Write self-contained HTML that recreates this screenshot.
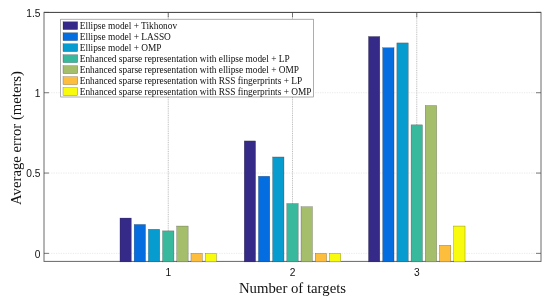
<!DOCTYPE html>
<html><head><meta charset="utf-8"><title>Average error vs number of targets</title>
<style>
html,body{margin:0;padding:0;background:#fff;}
body{width:550px;height:303px;overflow:hidden;}
svg{display:block;}
.tk{font-family:"Liberation Sans",Arial,Helvetica,sans-serif;font-size:10.2px;fill:#111;}
.lab{font-family:"Liberation Serif","Times New Roman",serif;font-size:14.75px;fill:#111;}
.lg{font-family:"Liberation Serif","Times New Roman",serif;font-size:9.36px;fill:#111;}
</style></head><body>
<svg width="550" height="303" viewBox="0 0 550 303">
<rect width="550" height="303" fill="#fff"/>
<line x1="168.25" y1="12.4" x2="168.25" y2="261.4" stroke="#888" stroke-width="0.55" stroke-dasharray="1 0.8"/>
<line x1="292.50" y1="12.4" x2="292.50" y2="261.4" stroke="#888" stroke-width="0.55" stroke-dasharray="1 0.8"/>
<line x1="416.75" y1="12.4" x2="416.75" y2="261.4" stroke="#888" stroke-width="0.55" stroke-dasharray="1 0.8"/>
<line x1="44.0" y1="253.37" x2="541.0" y2="253.37" stroke="#dadada" stroke-width="0.6" stroke-dasharray="1.2 1.2"/>
<line x1="44.0" y1="173.05" x2="541.0" y2="173.05" stroke="#dadada" stroke-width="0.6" stroke-dasharray="1.2 1.2"/>
<line x1="44.0" y1="92.72" x2="541.0" y2="92.72" stroke="#dadada" stroke-width="0.6" stroke-dasharray="1.2 1.2"/>
<line x1="44.0" y1="12.4" x2="541.0" y2="12.4" stroke="#383838" stroke-width="1.0"/>
<line x1="44.0" y1="261.4" x2="541.0" y2="261.4" stroke="#666" stroke-width="1.0"/>
<line x1="44.0" y1="11.9" x2="44.0" y2="261.9" stroke="#6a6a6a" stroke-width="1.0"/>
<line x1="541.0" y1="11.9" x2="541.0" y2="261.9" stroke="#6a6a6a" stroke-width="1.0"/>
<line x1="168.25" y1="261.4" x2="168.25" y2="256.4" stroke="#444" stroke-width="0.7"/>
<line x1="168.25" y1="12.4" x2="168.25" y2="17.4" stroke="#444" stroke-width="0.7"/>
<line x1="292.50" y1="261.4" x2="292.50" y2="256.4" stroke="#444" stroke-width="0.7"/>
<line x1="292.50" y1="12.4" x2="292.50" y2="17.4" stroke="#444" stroke-width="0.7"/>
<line x1="416.75" y1="261.4" x2="416.75" y2="256.4" stroke="#444" stroke-width="0.7"/>
<line x1="416.75" y1="12.4" x2="416.75" y2="17.4" stroke="#444" stroke-width="0.7"/>
<line x1="44.0" y1="253.37" x2="49.0" y2="253.37" stroke="#444" stroke-width="0.7"/>
<line x1="541.0" y1="253.37" x2="536.0" y2="253.37" stroke="#444" stroke-width="0.7"/>
<line x1="44.0" y1="173.05" x2="49.0" y2="173.05" stroke="#444" stroke-width="0.7"/>
<line x1="541.0" y1="173.05" x2="536.0" y2="173.05" stroke="#444" stroke-width="0.7"/>
<line x1="44.0" y1="92.72" x2="49.0" y2="92.72" stroke="#444" stroke-width="0.7"/>
<line x1="541.0" y1="92.72" x2="536.0" y2="92.72" stroke="#444" stroke-width="0.7"/>
<line x1="44.0" y1="12.40" x2="49.0" y2="12.40" stroke="#444" stroke-width="0.7"/>
<line x1="541.0" y1="12.40" x2="536.0" y2="12.40" stroke="#444" stroke-width="0.7"/>
<rect x="119.97" y="218.03" width="11.36" height="43.87" fill="#352A87" stroke="#222" stroke-opacity="0.6" stroke-width="0.4"/>
<rect x="134.17" y="224.45" width="11.36" height="37.45" fill="#046DE0" stroke="#222" stroke-opacity="0.6" stroke-width="0.4"/>
<rect x="148.37" y="229.27" width="11.36" height="32.63" fill="#079CCF" stroke="#222" stroke-opacity="0.6" stroke-width="0.4"/>
<rect x="162.57" y="230.88" width="11.36" height="31.02" fill="#38B99E" stroke="#222" stroke-opacity="0.6" stroke-width="0.4"/>
<rect x="176.77" y="226.06" width="11.36" height="35.84" fill="#A5BE6B" stroke="#222" stroke-opacity="0.6" stroke-width="0.4"/>
<rect x="190.97" y="253.37" width="11.36" height="8.53" fill="#FDBE3D" stroke="#222" stroke-opacity="0.6" stroke-width="0.4"/>
<rect x="205.17" y="253.37" width="11.36" height="8.53" fill="#F9FB0E" stroke="#222" stroke-opacity="0.6" stroke-width="0.4"/>
<rect x="244.22" y="140.92" width="11.36" height="120.98" fill="#352A87" stroke="#222" stroke-opacity="0.6" stroke-width="0.4"/>
<rect x="258.42" y="176.26" width="11.36" height="85.64" fill="#046DE0" stroke="#222" stroke-opacity="0.6" stroke-width="0.4"/>
<rect x="272.62" y="156.98" width="11.36" height="104.92" fill="#079CCF" stroke="#222" stroke-opacity="0.6" stroke-width="0.4"/>
<rect x="286.82" y="203.57" width="11.36" height="58.33" fill="#38B99E" stroke="#222" stroke-opacity="0.6" stroke-width="0.4"/>
<rect x="301.02" y="206.78" width="11.36" height="55.12" fill="#A5BE6B" stroke="#222" stroke-opacity="0.6" stroke-width="0.4"/>
<rect x="315.22" y="253.37" width="11.36" height="8.53" fill="#FDBE3D" stroke="#222" stroke-opacity="0.6" stroke-width="0.4"/>
<rect x="329.42" y="253.37" width="11.36" height="8.53" fill="#F9FB0E" stroke="#222" stroke-opacity="0.6" stroke-width="0.4"/>
<rect x="368.47" y="36.50" width="11.36" height="225.40" fill="#352A87" stroke="#222" stroke-opacity="0.6" stroke-width="0.4"/>
<rect x="382.67" y="47.74" width="11.36" height="214.16" fill="#046DE0" stroke="#222" stroke-opacity="0.6" stroke-width="0.4"/>
<rect x="396.87" y="42.92" width="11.36" height="218.98" fill="#079CCF" stroke="#222" stroke-opacity="0.6" stroke-width="0.4"/>
<rect x="411.07" y="124.85" width="11.36" height="137.05" fill="#38B99E" stroke="#222" stroke-opacity="0.6" stroke-width="0.4"/>
<rect x="425.27" y="105.57" width="11.36" height="156.33" fill="#A5BE6B" stroke="#222" stroke-opacity="0.6" stroke-width="0.4"/>
<rect x="439.47" y="245.34" width="11.36" height="16.56" fill="#FDBE3D" stroke="#222" stroke-opacity="0.6" stroke-width="0.4"/>
<rect x="453.67" y="226.06" width="11.36" height="35.84" fill="#F9FB0E" stroke="#222" stroke-opacity="0.6" stroke-width="0.4"/>
<text x="168.35" y="276.0" text-anchor="middle" class="tk">1</text>
<text x="292.60" y="276.0" text-anchor="middle" class="tk">2</text>
<text x="416.85" y="276.0" text-anchor="middle" class="tk">3</text>
<text x="40.5" y="257.57" text-anchor="end" class="tk">0</text>
<text x="40.5" y="177.25" text-anchor="end" class="tk">0.5</text>
<text x="40.5" y="96.92" text-anchor="end" class="tk">1</text>
<text x="40.5" y="16.60" text-anchor="end" class="tk">1.5</text>
<text x="292.5" y="293.0" text-anchor="middle" class="lab">Number of targets</text>
<text transform="translate(20.8,138.0) rotate(-90)" text-anchor="middle" class="lab">Average error (meters)</text>
<rect x="60.7" y="19.2" width="252.8" height="77.8" fill="#fff" stroke="#777" stroke-width="0.6"/>
<rect x="63" y="21.75" width="14.7" height="7.9" fill="#352A87" stroke="#222" stroke-opacity="0.6" stroke-width="0.4"/>
<text x="79.7" y="28.80" class="lg">Ellipse model + Tikhonov</text>
<rect x="63" y="32.75" width="14.7" height="7.9" fill="#046DE0" stroke="#222" stroke-opacity="0.6" stroke-width="0.4"/>
<text x="79.7" y="39.80" class="lg">Ellipse model + LASSO</text>
<rect x="63" y="43.75" width="14.7" height="7.9" fill="#079CCF" stroke="#222" stroke-opacity="0.6" stroke-width="0.4"/>
<text x="79.7" y="50.80" class="lg">Ellipse model + OMP</text>
<rect x="63" y="54.75" width="14.7" height="7.9" fill="#38B99E" stroke="#222" stroke-opacity="0.6" stroke-width="0.4"/>
<text x="79.7" y="61.80" class="lg">Enhanced sparse representation with ellipse model + LP</text>
<rect x="63" y="65.75" width="14.7" height="7.9" fill="#A5BE6B" stroke="#222" stroke-opacity="0.6" stroke-width="0.4"/>
<text x="79.7" y="72.80" class="lg">Enhanced sparse representation with ellipse model + OMP</text>
<rect x="63" y="76.75" width="14.7" height="7.9" fill="#FDBE3D" stroke="#222" stroke-opacity="0.6" stroke-width="0.4"/>
<text x="79.7" y="83.80" class="lg">Enhanced sparse representation with RSS fingerprints + LP</text>
<rect x="63" y="87.75" width="14.7" height="7.9" fill="#F9FB0E" stroke="#222" stroke-opacity="0.6" stroke-width="0.4"/>
<text x="79.7" y="94.80" class="lg">Enhanced sparse representation with RSS fingerprints + OMP</text>
</svg>
</body></html>
